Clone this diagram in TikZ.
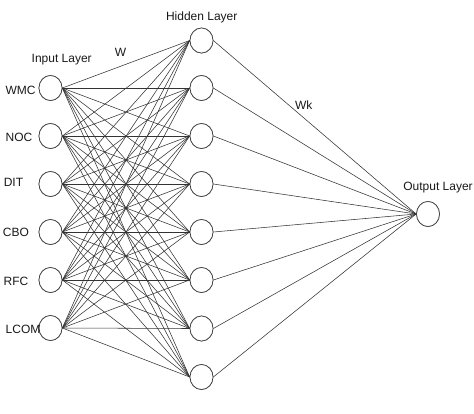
\documentclass[tikz,border=0pt]{standalone}
\usepackage{fontspec}
\setmainfont{Liberation Sans}
\usetikzlibrary{shapes.geometric}
\begin{document}
\begin{tikzpicture}[x=1pt,y=-1pt,
  neuron/.style={ellipse,draw=black!75,line width=0.7pt,minimum width=23pt,minimum height=25pt,inner sep=0pt,fill=white},
  lbl/.style={inner sep=0pt,font=\fontsize{12}{14}\selectfont,text=black!90},
  conn/.style={line width=0.55pt,draw=black!80}]
\useasboundingbox (0,0) rectangle (474,413);
% input layer
\foreach \n/\y in {1/88,2/136,3/184,4/232,5/280,6/328}
  \node[neuron] (i\n) at (50.5,\y) {};
% hidden layer
\foreach \n/\y in {1/40.5,2/88,3/136,4/184,5/232,6/280,7/328.5,8/377}
  \node[neuron] (h\n) at (201.5,\y) {};
% output
\node[neuron] (o) at (428,214) {};
% connectors
\foreach \a in {1,...,6}
  \foreach \b in {1,...,8}
    \draw[conn] (i\a.east) -- (h\b.west);
\foreach \b in {1,...,8}
  \draw[conn] (h\b.east) -- (o.west);
% redraw circles above lines
\foreach \n/\y in {1/88,2/136,3/184,4/232,5/280,6/328}
  \node[neuron] at (50.5,\y) {};
\foreach \n/\y in {1/40.5,2/88,3/136,4/184,5/232,6/280,7/328.5,8/377}
  \node[neuron] at (201.5,\y) {};
\node[neuron] at (428,214) {};
% labels
\node[lbl] (tin) at (61.7,60) {Input Layer};
\node[lbl] (tw) at (120.5,52) {W};
\node[lbl] (thid) at (201.7,17) {Hidden Layer};
\node[lbl] (twk) at (303.7,105) {Wk};
\node[lbl] (tout) at (438,188) {Output Layer};
\node[lbl] (l1) at (20.5,90) {WMC};
\node[lbl] (l2) at (19,137) {NOC};
\node[lbl] (l3) at (13.5,182) {DIT};
\node[lbl] (l4) at (16,232) {CBO};
\node[lbl] (l5) at (16,281) {RFC};
\node[lbl] (l6) at (23,329) {LCOM};
\end{tikzpicture}
\end{document}
